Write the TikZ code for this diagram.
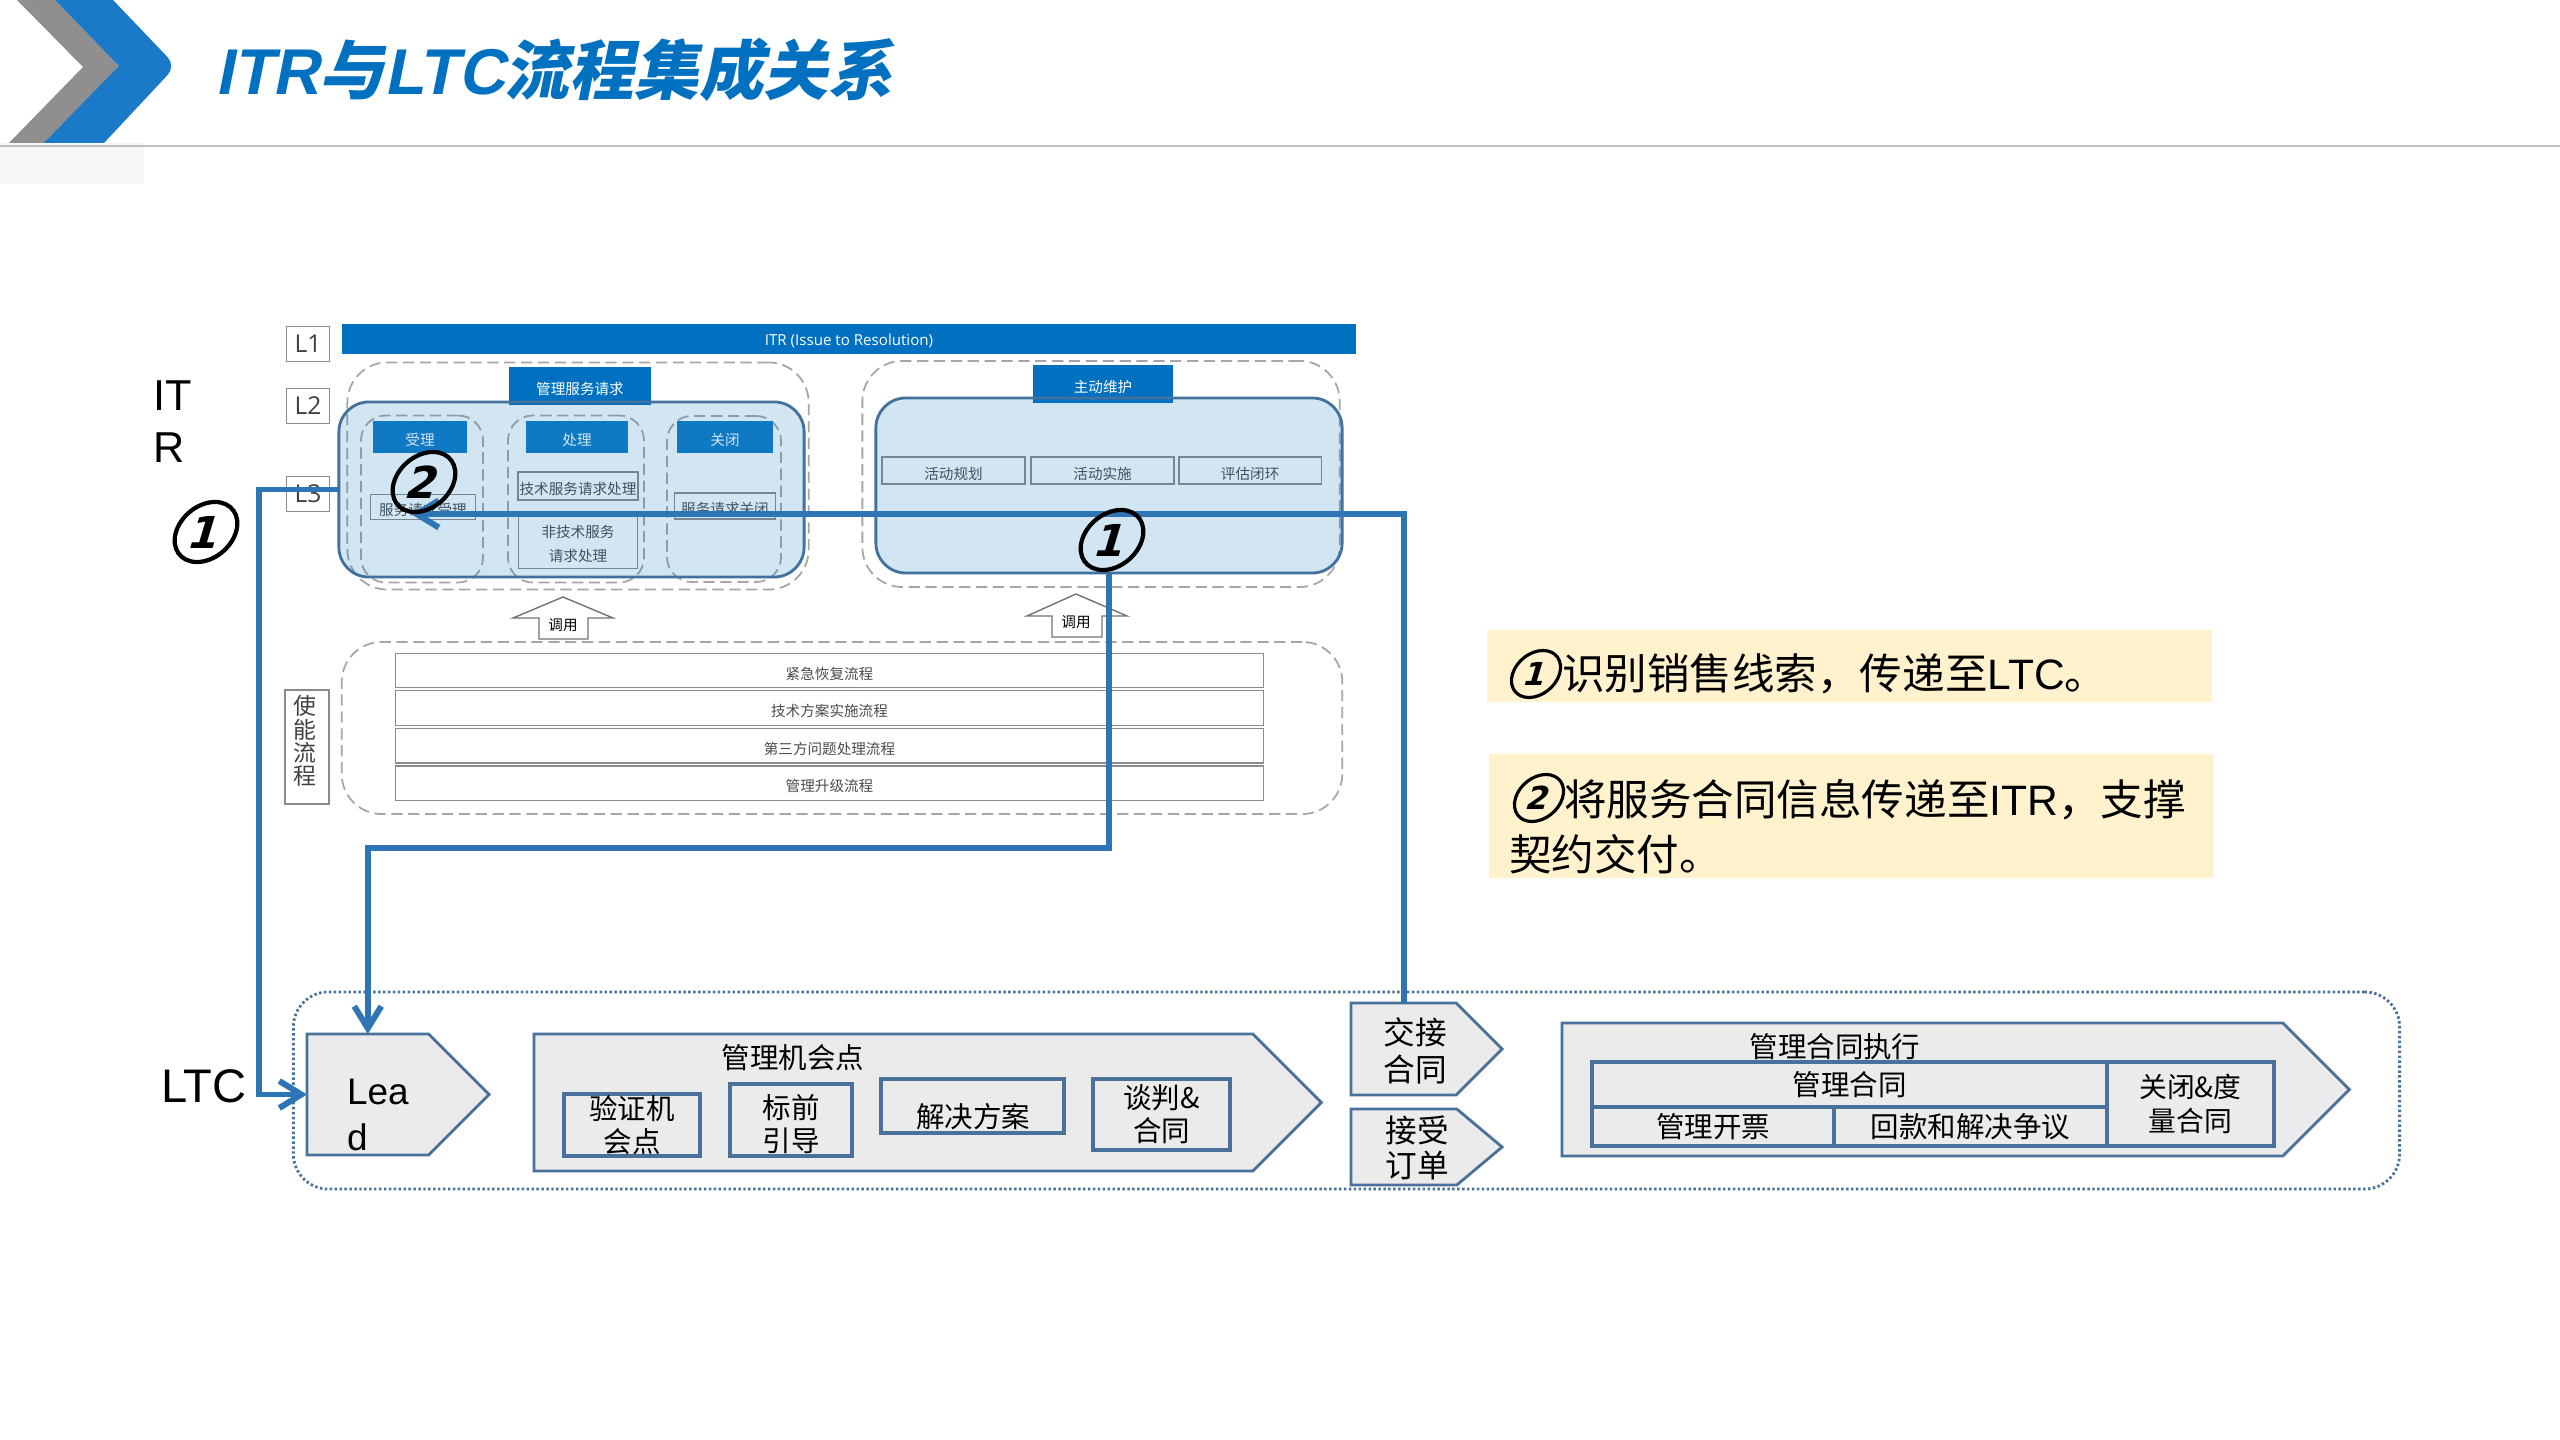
\documentclass[tikz,border=0pt]{standalone}
\usepackage{fontspec}
\setmainfont{Noto Sans CJK SC}
\newfontfamily\latinfont{Liberation Sans}
\newfontfamily\openfont{Open Sans}
\newfontfamily\badgefont{DejaVu Sans}
\usetikzlibrary{arrows.meta,positioning,shapes.symbols}
\definecolor{itrBlue}{HTML}{0070C0}
\definecolor{logoBlue}{HTML}{1B7AC8}
\definecolor{logoGray}{HTML}{8F8F8F}
\definecolor{flowBlue}{HTML}{2E75B6}
\definecolor{panelLine}{HTML}{41719C}
\definecolor{ltcLine}{HTML}{4A7199}
\definecolor{ltcFill}{HTML}{EBEBEB}
\definecolor{noteFill}{HTML}{FFF2CC}
\definecolor{softGray}{HTML}{A6A6A6}

\begin{document}
\begin{tikzpicture}[
  x=0.01cm, y=-0.01cm,
  every node/.style={outer sep=0pt, inner sep=0pt},
  small/.style={font=\fontsize{4.15}{7}\selectfont, text=black!70, text height=4.9pt, text depth=0pt},
  hdr/.style={fill=itrBlue, font=\fontsize{4.15}{7}\selectfont, text=white, text height=4.9pt, text depth=0pt},
  level/.style={draw=black!45, line width=0.4pt, fill=white, font=\openfont\fontsize{7}{8}\selectfont, text=black!75, minimum width=0.43cm, minimum height=0.35cm},
  item/.style={small, draw=black!45, line width=0.4pt},
  row/.style={small, draw=black!45, line width=0.4pt, fill=white, minimum width=8.67cm, minimum height=0.345cm},
  dashbox/.style={draw=softGray, line width=0.5pt, dash pattern=on 3.2pt off 1.6pt, rounded corners=0.4cm},
  panel/.style={draw=panelLine, line width=0.8pt, fill=itrBlue, fill opacity=0.18, draw opacity=1, rounded corners=0.3cm},
  callup/.style={draw=black!55, line width=0.4pt, fill=white},
  chevron/.style={signal, signal to=east, draw=ltcLine, line width=0.8pt, fill=ltcFill, anchor=west},
  stage/.style={font=\fontsize{8.1}{9.3}\selectfont, align=center},
  inbox/.style={stage, draw=ltcLine, line width=1.1pt},
  bigtext/.style={font=\latinfont\fontsize{12.3}{14.8}\selectfont, align=left},
  note/.style={fill=noteFill, minimum width=7.25cm},
  notetext/.style={font=\fontsize{12.1}{15.6}\selectfont, align=left, anchor=west},
  arr/.style={draw=flowBlue, line width=1.7pt, -{Straight Barb[length=0.22cm, width=0.27cm, line width=1.7pt]}},
  badge/.style={circle, draw=black, line width=1.2pt, minimum size=0.6cm, transform shape, xslant=0.3, font=\badgefont\bfseries\fontsize{12.5}{13}\selectfont},
  minibadge/.style={circle, draw=black, line width=0.9pt, minimum size=0.47cm, transform shape, xslant=0.3, font=\badgefont\bfseries\fontsize{9}{10}\selectfont}
]
  \useasboundingbox (0,0) rectangle (2560,1440);
  \fill[white] (0,0) rectangle (2560,1440);

  \fill[black!3] (0,143) rectangle (144,184);
  \draw[black!25, line width=0.5pt] (0,146) -- (2560,146);
  \fill[logoGray] (17,0) -- (55,0) -- (119,66) -- (46,143) -- (9,143) -- (83,67) -- cycle;
  \fill[logoBlue] (55,0) -- (113,0) [rounded corners=0.12cm] -- (176,66) [sharp corners] -- (104,143) -- (44,143) -- (119,66) -- cycle;
  \node[transform shape, xslant=0.2, text=itrBlue, anchor=west, font=\bfseries\fontsize{18.4}{20}\selectfont] (title) at (220,70)
    {{\latinfont ITR}与{\latinfont LTC}流程集成关系};

  \node[level] (lvlOne) at (308,344) {L1};
  \node[level, below=0.27cm of lvlOne] (lvlTwo) {L2};
  \node[level] (lvlThree) at (308,494) {L3};
  \node[fill=itrBlue, text=white, minimum width=10.14cm, minimum height=0.29cm, font=\openfont\fontsize{4.3}{5}\selectfont, text height=3.9pt, text depth=0pt] (itrBar) at (849,339) {ITR (Issue to Resolution)};

  \node[dashbox, minimum width=4.61cm, minimum height=2.27cm] (svcOuter) at (578,476) {};
  \node[dashbox, minimum width=4.77cm, minimum height=2.26cm] (maintOuter) at (1101,474) {};
  \node[hdr, minimum width=1.42cm, minimum height=0.37cm] (svcTab) at (580,386) {管理服务请求};
  \node[hdr, minimum width=1.39cm, minimum height=0.38cm] (maintTab) at (1103,384) {主动维护};

  \node[dashbox, minimum width=1.22cm, minimum height=1.67cm, rounded corners=0.25cm] (acceptLane) at (422,499) {};
  \node[dashbox, minimum width=1.36cm, minimum height=1.67cm, rounded corners=0.25cm] (handleLane) at (576,499) {};
  \node[dashbox, minimum width=1.14cm, minimum height=1.66cm, rounded corners=0.25cm] (closeLane) at (724,499) {};
  \node[hdr, fill=itrBlue!92!white, minimum width=0.93cm, minimum height=0.31cm] (acceptHdr) at (420,437) {受理};
  \node[hdr, fill=itrBlue!92!white, minimum width=1.02cm, minimum height=0.31cm] (handleHdr) at (577,437) {处理};
  \node[hdr, fill=itrBlue!92!white, minimum width=0.95cm, minimum height=0.31cm] (closeHdr) at (725,437) {关闭};
  \node[item, minimum width=1.05cm, minimum height=0.25cm] (svcAccept) at (423,507) {服务请求受理};
  \node[item, minimum width=1.2cm, minimum height=0.28cm] (techItem) at (578,486) {技术服务请求处理};
  \node[draw=black!45, line width=0.4pt, minimum width=1.19cm, minimum height=0.57cm] (nonTechItem) at (578,540) {};
  \node[align=center, text=black!70, font=\fontsize{4.15}{6.6}\selectfont] (nonTechText) at (578,544) {非技术服务\\请求处理};
  \node[item, minimum width=1.01cm, minimum height=0.26cm] (closeItem) at (725,506) {服务请求关闭};

  \node[item, minimum width=1.43cm, minimum height=0.27cm] (planItem) at (953.5,470.5) {活动规划};
  \node[item, right=0.06cm of planItem, minimum width=1.43cm, minimum height=0.27cm] (runItem) {活动实施};
  \node[item, right=0.05cm of runItem, minimum width=1.42cm, minimum height=0.27cm] (evalItem) {评估闭环};

  \node[panel, minimum width=4.65cm, minimum height=1.75cm] (svcPanel) at (571.5,489.5) {};
  \node[panel, minimum width=4.66cm, minimum height=1.75cm] (maintPanel) at (1109,485.5) {};

  \draw[callup] (539,639) -- (539,618) -- (513,618) -- (563,597) -- (613,618) -- (588,618) -- (588,639) -- cycle;
  \node[small, text=black] (callOne) at (563,622) {调用};
  \draw[callup] (1052,637) -- (1052,616) -- (1027,616) -- (1076,594) -- (1127,616) -- (1102,616) -- (1102,637) -- cycle;
  \node[small, text=black] (callTwo) at (1076,619) {调用};

  \node[dashbox, minimum width=10cm, minimum height=1.72cm] (enableOuter) at (842,728) {};
  \node[draw=black!45, line width=0.4pt, minimum width=0.44cm, minimum height=1.14cm] (enableTag) at (307,747) {};
  \node[align=center, font=\fontsize{6.5}{6.6}\selectfont, text=black!75] (enableText) at (305,741) {使\\能\\流\\程};
  \node[row] (rowOne) at (829.5,670.5) {紧急恢复流程};
  \node[row, below=0.03cm of rowOne] (rowTwo) {技术方案实施流程};
  \node[row, below=0.03cm of rowTwo] (rowThree) {第三方问题处理流程};
  \node[row, below=0.03cm of rowThree] (rowFour) {管理升级流程};

  \node[bigtext, anchor=west] (itrName) at (153,422) {IT\\R};
  \node[bigtext, anchor=west, font=\latinfont\fontsize{13.4}{15}\selectfont] (ltcName) at (161,1086) {LTC};

  \node[draw=ltcLine, line width=0.8pt, dash pattern=on 0.7pt off 0.7pt, rounded corners=0.35cm, minimum width=21.05cm, minimum height=1.97cm] (ltcOuter) at (1346.5,1090.5) {};

  \node[chevron, minimum width=1.82cm, minimum height=1.21cm] (lead) at (307,1094.5) {};
  \node[font=\latinfont\fontsize{10.5}{12.9}\selectfont, align=left, anchor=west] (leadText) at (347,1115) {Lea\\d};

  \node[chevron, minimum width=7.87cm, minimum height=1.37cm] (oppty) at (534,1102.5) {};
  \node[stage] (opptyText) at (793,1058) {管理机会点};
  \node[inbox, minimum width=1.36cm, minimum height=0.62cm] (verifyBox) at (632,1125) {验证机\\会点};
  \node[draw=ltcLine, line width=1.1pt, minimum width=1.22cm, minimum height=0.72cm] (bidBox) at (791,1120) {};
  \node[stage] (bidText) at (791,1124) {标前\\引导};
  \node[draw=ltcLine, line width=1.1pt, minimum width=1.83cm, minimum height=0.54cm] (solutionBox) at (972.5,1106) {};
  \node[stage] (solutionText) at (973,1117) {解决方案};
  \node[inbox, minimum width=1.37cm, minimum height=0.71cm] (negotiateBox) at (1161.5,1114.5) {谈判\&\\合同};

  \node[chevron, minimum width=1.51cm, minimum height=0.92cm] (handover) at (1351,1049) {};
  \node[stage, font=\fontsize{9}{10.5}\selectfont] (handoverText) at (1415,1051) {交接\\合同};
  \node[chevron, signal pointer angle=80, minimum width=1.51cm, minimum height=0.76cm] (orderIn) at (1351,1147) {};
  \node[stage, font=\fontsize{9}{10}\selectfont] (orderText) at (1417,1148) {接受\\订单};

  \node[chevron, minimum width=7.87cm, minimum height=1.33cm] (execute) at (1562,1089.5) {};
  \node[stage] (executeText) at (1835,1047) {管理合同执行};
  \node[inbox, minimum width=5.15cm, minimum height=0.45cm] (contractBox) at (1849.5,1084.5) {管理合同};
  \node[inbox, minimum width=2.42cm, minimum height=0.39cm] (invoiceBox) at (1713,1126.5) {管理开票};
  \node[inbox, minimum width=2.73cm, minimum height=0.39cm] (cashBox) at (1970.5,1126.5) {回款和解决争议};
  \node[inbox, minimum width=1.67cm, minimum height=0.84cm, font=\fontsize{7.9}{9.6}\selectfont] (closeBox) at (2190.5,1104) {关闭\&度\\量合同};

  \coordinate (acceptPt) at (411,514);
  \draw[arr] (svcPanel.west) -- ++(-80,0) |- (lead.west);
  \draw[arr] (maintPanel.south) -- ++(0,275) -| (lead.north);
  \draw[arr] (handover.north) |- (acceptPt);

  \node[badge] (badgeLeft) at (206,532) {1};
  \node[badge] (badgeAccept) at (424,482) {2};
  \node[badge] (badgeMaint) at (1112,540) {1};

  \node[note, minimum height=0.72cm] (noteOne) at (1849.5,666) {};
  \node[notetext] (noteOneText) at (1509,674) {\hspace*{0.53cm}识别销售线索，传递至{\latinfont LTC}。};
  \node[minibadge] (noteOneBadge) at (1536,674) {1};
  \node[note, minimum height=1.24cm] (noteTwo) at (1851.5,816) {};
  \node[notetext] (noteTwoText) at (1509,827) {\hspace*{0.55cm}将服务合同信息传递至{\latinfont ITR}，支撑\\契约交付。};
  \node[minibadge] (noteTwoBadge) at (1539,798) {2};
\end{tikzpicture}
\end{document}
